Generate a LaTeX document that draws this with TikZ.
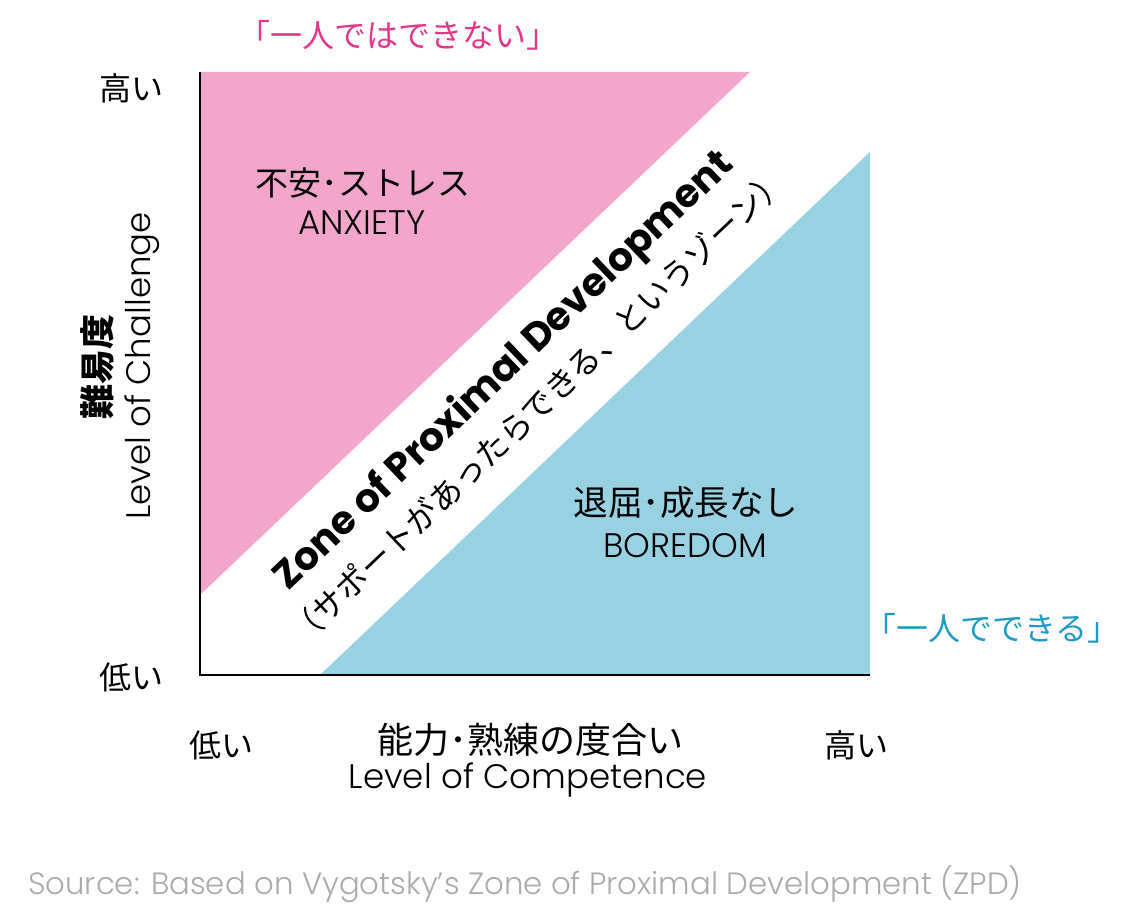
\documentclass[tikz,border=0pt]{standalone}
\usepackage{fontspec}
\usepackage{xcolor}
\usepackage{tikz}
\usetikzlibrary{positioning}
\newfontfamily\geo{Poppins}
\newfontfamily\geolight{Poppins Light}
\newfontfamily\cjk{Noto Sans CJK JP}
\definecolor{zonepink}{HTML}{F2A6CB}
\definecolor{zoneblue}{HTML}{98D1E1}
\definecolor{notetextpink}{HTML}{E4358A}
\definecolor{notetextblue}{HTML}{1E9BC4}
\definecolor{sourcegrey}{HTML}{ABABAB}

\begin{document}
\begin{tikzpicture}[x=0.5pt, y=0.5pt,
    jp/.style={font=\cjk\fontsize{16}{19}\selectfont},
    en/.style={font=\geolight\fontsize{17}{20}\selectfont},
    axis/.style={line width=0.75pt, black}]
			\useasboundingbox (0,0) rectangle (1124,920);
			% Zones
			\coordinate (origin) at (200,245);
			\coordinate (ytop) at (200,848);
			\coordinate (xend) at (870,245);
			\fill[zonepink] (ytop) -- (750,848) -- (200,325) -- cycle;
			\fill[zoneblue] (320,245) -- (xend) -- (870,768) -- cycle;
			\draw[axis] (ytop) -- (origin) -- (xend);
			
			% Nodes
			\node[jp, text=notetextpink] (notalone) at (398,885) {「一人ではできない」};
			\node[jp, text=notetextblue] (alone) at (992,292) {「一人でできる」};
			\node[jp] (yhigh) at (131,832) {高い};
			\node[jp] (ylow) at (131,243) {低い};
			\node[jp] (xlow) at (221,175) {低い};
			\node[jp] (xhigh) at (856,175) {高い};
			\node[jp, font=\cjk\fontsize{18}{21}\selectfont] (xlabel) at (530,180) {能力･熟練の度合い};
			\node[en] (xlabelen) at (528,140) {Level of Competence};
			\node[jp, font=\cjk\bfseries\fontsize{17.5}{21}\selectfont, rotate=90] (ylabel) at (97,553) {難易度};
			\node[en, rotate=90] (ylabelen) at (142,554) {Level of Challenge};
			\node[jp, font=\cjk\fontsize{16.5}{19}\selectfont] (anxiety) at (363,737) {不安･ストレス};
			\node[en] (anxietyen) at (362,697) {ANXIETY};
			\node[jp, font=\cjk\fontsize{17.3}{20}\selectfont] (boredom) at (686,418) {退屈･成長なし};
			\node[en] (boredomen) at (685,374) {BOREDOM};
			
			% Zone of proximal development
			\node[rotate=43.56, align=center, inner sep=0pt] (zpd) at (519,533)
			  {{\geo\bfseries\fontsize{19.6}{23}\selectfont Zone of Proximal Development}\\[5pt]
			   {\cjk\fontsize{16.1}{19}\selectfont （サポートがあったらできる、というゾーン）}};
			
			% Source
			\node[en, font=\geolight\fontsize{15.4}{18}\selectfont, text=sourcegrey] (source) at (525,36) {Source: Based on Vygotsky’s Zone of Proximal Development (ZPD)};
		\end{tikzpicture}
\end{document}
